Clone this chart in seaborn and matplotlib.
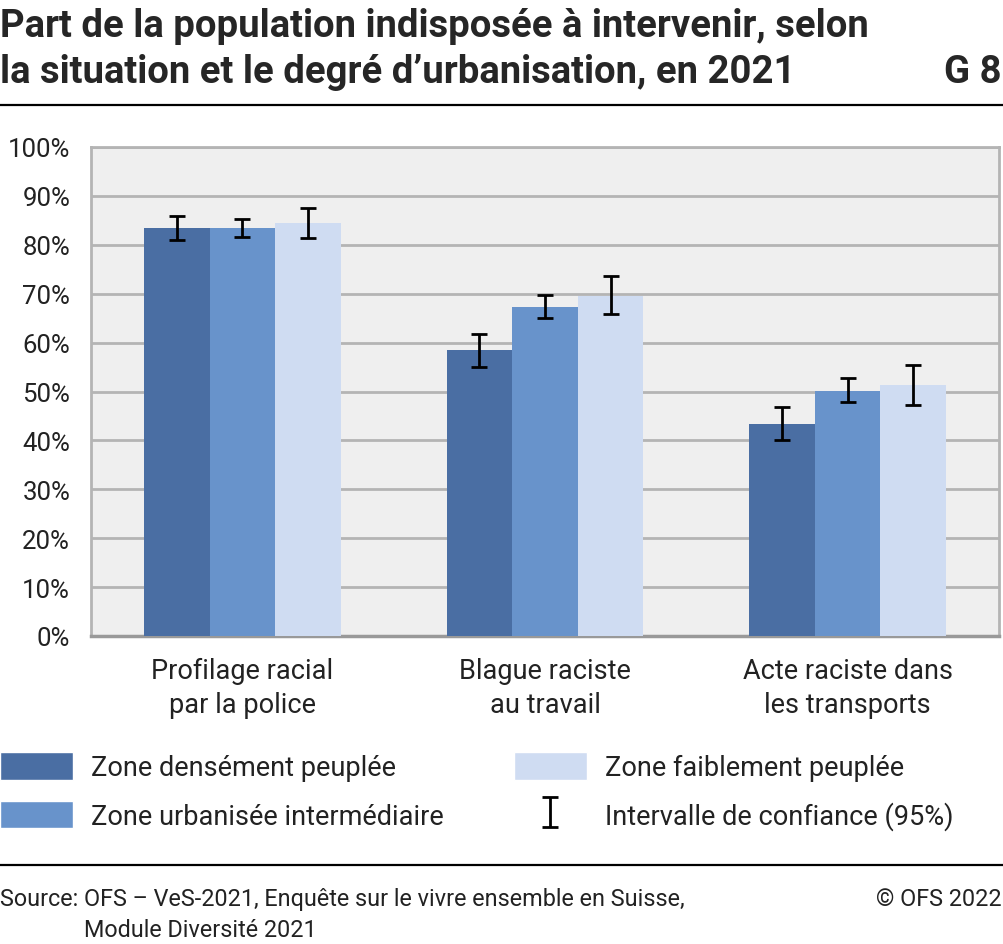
import numpy as np
import pandas as pd
import matplotlib
matplotlib.use("Agg")
from matplotlib import pyplot as plt
from matplotlib.patches import Patch
from matplotlib.legend_handler import HandlerErrorbar
import seaborn as sns

# data (percent)
categories = ["Profilage racial\npar la police", "Blague raciste\nau travail", "Acte raciste dans\nles transports"]
zones = ["Zone densément peuplée", "Zone urbanisée intermédiaire", "Zone faiblement peuplée"]
dense = [83.4, 58.4, 43.4]
intermediate = [83.4, 67.3, 50.2]
sparse = [84.4, 69.6, 51.3]
ci_low = {
    zones[0]: [81.0, 55.0, 40.1],
    zones[1]: [81.5, 65.0, 47.8],
    zones[2]: [81.4, 65.9, 47.2],
}
ci_high = {
    zones[0]: [85.9, 61.8, 46.8],
    zones[1]: [85.2, 69.8, 52.8],
    zones[2]: [87.5, 73.6, 55.4],
}
colors = ["#4a6ea3", "#6893cb", "#cfdcf2"]

df = pd.DataFrame({
    "situation": categories * 3,
    "zone": [z for z in zones for _ in categories],
    "value": dense + intermediate + sparse,
})

sns.set_theme(style="white")
plt.rcParams["font.family"] = ["Roboto", "DejaVu Sans"]

fig = plt.figure(figsize=(10.04, 9.45), dpi=100)
ax = fig.add_axes([91 / 1004, 1 - 637 / 945, 908 / 1004, (637 - 148) / 945])
ax.set_facecolor("#efefef")

sns.barplot(data=df, x="situation", y="value", hue="zone", palette=colors,
            width=0.65, ax=ax, legend=False, saturation=1, linewidth=0, zorder=3)

# error bars at the centre of each bar
for zone, container in zip(zones, ax.containers):
    xs = [p.get_x() + p.get_width() / 2 for p in container.patches]
    vals = df.loc[df.zone == zone, "value"].to_numpy()
    lo = vals - np.array(ci_low[zone])
    hi = np.array(ci_high[zone]) - vals
    eb = ax.errorbar(xs, vals, yerr=[lo, hi], fmt="none", ecolor="black",
                     elinewidth=2, capsize=5.5, capthick=2, zorder=4)

ax.set_ylim(0, 100)
ax.set_xlim(-0.5, 2.5)
ax.set_yticks(np.arange(0, 101, 10))
ax.set_yticklabels([f"{v}%" for v in range(0, 101, 10)], fontsize=18.5, color="#222222")
ax.yaxis.grid(True, color="#b4b4b4", linewidth=2, zorder=0)
ax.set_axisbelow(True)
ax.set_xlabel("")
ax.set_ylabel("")
ax.tick_params(axis="y", length=0, pad=15)
for side in ["left", "top", "right"]:
    ax.spines[side].set_color("#b4b4b4")
    ax.spines[side].set_linewidth(2)
ax.spines["bottom"].set_color("#999999")
ax.spines["bottom"].set_linewidth(2.5)

# category labels with separators underneath
ax.set_xticks(range(len(categories)))
ax.set_xticklabels(categories, fontsize=19.5, color="#222222", linespacing=1.35)
ax.tick_params(axis="x", which="major", length=0, pad=15)
ax.set_xticks([-0.5, 0.5, 1.5, 2.5], minor=True)
ax.tick_params(axis="x", which="minor", length=60, width=1.5, color="#a0a0a0", direction="out")

# legend
handles = [Patch(facecolor=colors[0]), Patch(facecolor=colors[1]),
           Patch(facecolor=colors[2]), eb]
labels = [zones[0], zones[1], zones[2], "Intervalle de confiance (95%)"]
fig.legend(handles, labels, ncol=2, loc="upper left", bbox_to_anchor=(0.0, 1 - 753 / 945),
           frameon=False, fontsize=19.5, handlelength=2.7, handleheight=1.2,
           handletextpad=0.65, columnspacing=2.6, labelspacing=0.72, borderpad=0,
           borderaxespad=0, labelcolor="#222222",
           handler_map={type(eb): HandlerErrorbar(xerr_size=0.3, yerr_size=0.55)})

# title, rules and source
fig.text(0.0, 1 - 37 / 945, "Part de la population indisposée à intervenir, selon",
         fontsize=27.5, fontweight="bold", va="baseline", ha="left")
fig.text(0.0, 1 - 83 / 945, "la situation et le degré d’urbanisation, en 2021",
         fontsize=27.5, fontweight="bold", va="baseline", ha="left")
fig.text(0.998, 1 - 83 / 945, "G 8", fontsize=27.5, fontweight="bold", va="baseline", ha="right")
fig.add_artist(plt.Line2D([0, 1], [1 - 106 / 945] * 2, color="black", linewidth=1.6))
fig.add_artist(plt.Line2D([0, 1], [1 - 866 / 945] * 2, color="black", linewidth=1.6))
fig.text(0.0, 1 - 906 / 945, "Source: OFS – VeS-2021, Enquête sur le vivre ensemble en Suisse,",
         fontsize=16.8, color="#222222", va="baseline")
fig.text(84 / 1004, 1 - 937 / 945, "Module Diversité 2021",
         fontsize=16.8, color="#222222", va="baseline")
fig.text(0.998, 1 - 906 / 945, "© OFS 2022", fontsize=16.8, color="#222222",
         va="baseline", ha="right")

fig.savefig("out.png", dpi=100)
